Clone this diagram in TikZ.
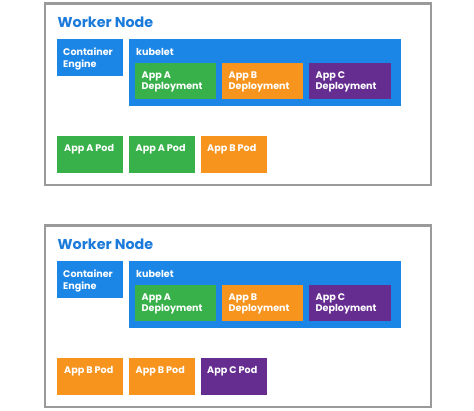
\documentclass[tikz,border=0pt]{standalone}
\usepackage{fontspec}
\setmainfont{Poppins}
\definecolor{kblue}{HTML}{1C86E6}
\definecolor{tblue}{HTML}{1B7BDB}
\definecolor{kgreen}{HTML}{39B14B}
\definecolor{korange}{HTML}{F7941E}
\definecolor{kpurple}{HTML}{662D91}
\definecolor{kframe}{HTML}{9A9A9A}
\tikzset{
  frame/.style={draw=kframe, line width=2.2pt, fill=white},
  lbl/.style={anchor=north west, inner sep=0pt, text=white, font=\bfseries\fontsize{9.6}{11.3}\selectfont, align=left},
  ttl/.style={anchor=west, inner sep=0pt, text=tblue, font=\bfseries\fontsize{14.3}{16}\selectfont},
}
\newcommand{\wnpanel}[3]{%
  \begin{scope}[yshift=-#2pt]
    \draw[frame] (45,3.5) rectangle (431,185);
    \node[ttl] (#1title) at (57.5,22.5) {Worker Node};
    \fill[kblue] (56.7,39.3) rectangle (122.7,76);
    \node[lbl] (#1ce) at (63,48) {Container\\Engine};
    \fill[kblue] (129,39.3) rectangle (401.3,106);
    \node[lbl] (#1kub) at (136,48) {kubelet};
    \fill[kgreen] (135,62.7) rectangle (216,99.3);
    \node[lbl] (#1da) at (141.5,71.5) {App A\\Deployment};
    \fill[korange] (222.3,62.7) rectangle (303.3,99.3);
    \node[lbl] (#1db) at (228.5,71.5) {App B\\Deployment};
    \fill[kpurple] (309.3,62.7) rectangle (390.7,99.3);
    \node[lbl] (#1dc) at (315.5,71.5) {App C\\Deployment};
    #3
  \end{scope}}
\begin{document}
\begin{tikzpicture}[x=1pt,y=-1pt]
\useasboundingbox (0,0) rectangle (474,410);
\wnpanel{t}{0}{%
  \fill[kgreen] (57.3,136) rectangle (123.3,172.7);
  \node[lbl] (tp1) at (64,144) {App A Pod};
  \fill[kgreen] (129,136) rectangle (195.3,172.7);
  \node[lbl] (tp2) at (135.5,144) {App A Pod};
  \fill[korange] (200.7,136) rectangle (266.7,172.7);
  \node[lbl] (tp3) at (207,144) {App B Pod};}
\wnpanel{b}{222}{%
  \fill[korange] (57.3,136) rectangle (123.3,172.7);
  \node[lbl] (bp1) at (64,144) {App B Pod};
  \fill[korange] (129,136) rectangle (195.3,172.7);
  \node[lbl] (bp2) at (135.5,144) {App B Pod};
  \fill[kpurple] (200.7,136) rectangle (266.7,172.7);
  \node[lbl] (bp3) at (207,144) {App C Pod};}
\end{tikzpicture}
\end{document}
